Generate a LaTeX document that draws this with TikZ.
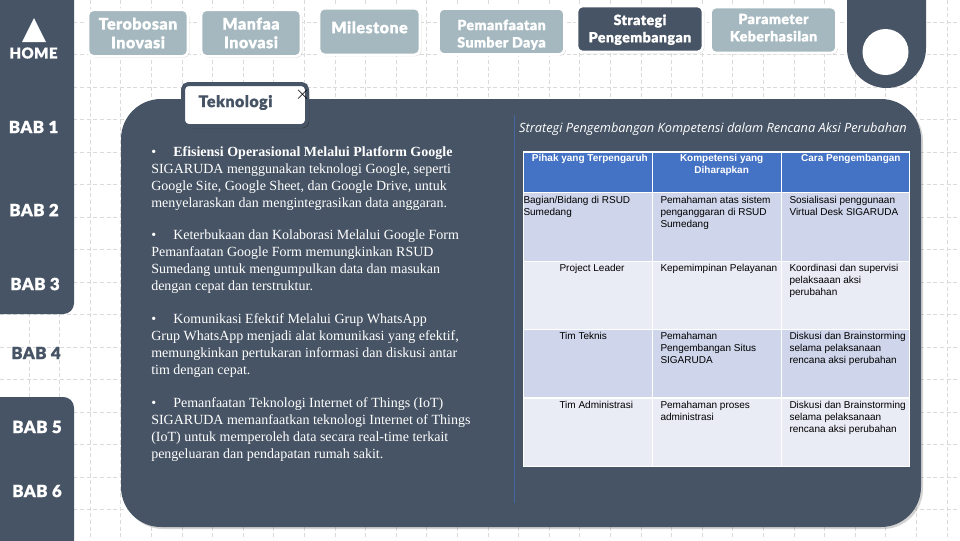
\documentclass[tikz,border=0pt]{standalone}
\usepackage{fontspec}
\setmainfont{Liberation Serif}
\newfontfamily\headfont[BoldFont={Lato Black},BoldFeatures={FakeBold=0.8,LetterSpace=3}]{Lato}
\newfontfamily\tablefont{Liberation Sans}
\newfontfamily\titlefont{Open Sans}
\usetikzlibrary{positioning,shadows}
\definecolor{slate}{HTML}{475465}
\definecolor{teal}{HTML}{A5B8BF}
\definecolor{headblue}{HTML}{4472C4}
\definecolor{rowdark}{HTML}{CFD5EA}
\definecolor{rowlight}{HTML}{E9EBF5}
\definecolor{gridline}{HTML}{DADADA}
\tikzset{
    tabbox/.style={
           rectangle,
           rounded corners=4pt,
           draw=white, line width=2pt,
           fill=teal,
           text=white,
           align=center,
           inner sep=0pt,
           minimum width=94.5pt,
           minimum height=34.5pt,
           font=\headfont\bfseries\fontsize{10.6}{13}\selectfont,
           drop shadow={shadow xshift=1pt,shadow yshift=-1pt,opacity=0.4},
           },
    shortbox/.style={tabbox,minimum width=75pt,minimum height=35pt,
           font=\headfont\bfseries\fontsize{12}{14}\selectfont},
    activebox/.style={tabbox,fill=slate},
    babtext/.style={
           text=white,
           inner sep=0pt,
           font=\headfont\bfseries\fontsize{12.6}{15}\selectfont,
           },
    cell/.style={
           rectangle,
           draw=white, line width=0.9pt,
           anchor=north west,
           inner sep=0pt,
           outer sep=0pt,
           text=black,
           font=\tablefont\fontsize{7.5}{9}\selectfont,
           },
    headcell/.style={cell,fill=headblue,text=white,
           font=\tablefont\bfseries\fontsize{7.5}{9}\selectfont},
    darkcell/.style={cell,fill=rowdark},
    lightcell/.style={cell,fill=rowlight},
    para/.style={
           anchor=north west,
           inner sep=0pt,
           text=white,
           text width=280pt,
           align=flush left,
           font=\fontsize{10.5}{12.75}\selectfont,
           },
}
% cell content: width, height, text
\newcommand{\cellbox}[3]{\parbox[c][#2][t]{#1}{\vspace{2.3pt}#3}}
\newcommand{\cellpad}[1]{\hspace*{6pt}\parbox[t]{90pt}{\raggedright #1}}
\newcommand{\headpad}[1]{\vspace{1.5pt}\centering #1}
% tab text moved up or down inside its box
\newcommand{\tabtext}[2]{\raisebox{#1}[0pt][0pt]{\begin{tabular}{@{}c@{}}#2\end{tabular}}}
\newcommand{\bul}{\makebox[16.5pt][l]{•}}

\begin{document}
\begin{tikzpicture}[x=0.75pt,y=-0.75pt]
 \useasboundingbox (0,0) rectangle (960,540);

 % grid behind everything
 \foreach \x in {29,59.6,...,950}
   \draw[gridline,densely dashed,line width=0.5pt] (\x,0) -- (\x,540);
 \foreach \y in {22,54.5,...,530}
   \draw[gridline,densely dashed,line width=0.5pt] (0,\y) -- (960,\y);

 % sidebar
 \fill[slate,rounded corners=8pt] (-20,-20) rectangle (74,314);
 \fill[slate,rounded corners=8pt] (-20,397) rectangle (74,560);
 \fill[white] (34,18) -- (46,42) -- (22,42) -- cycle;
 \node[babtext,font=\headfont\bfseries\fontsize{11.2}{15}\selectfont] (home) at (33.5,53) {HOME};
 \node[babtext] (bab1) at (33.5,127) {BAB 1};
 \node[babtext] (bab2) at (34,210) {BAB 2};
 \node[babtext] (bab3) at (35,284) {BAB 3};
 \node[babtext,text=slate] (bab4) at (36,353) {BAB 4};
 \node[babtext] (bab5) at (37,427) {BAB 5};
 \node[babtext] (bab6) at (37,491) {BAB 6};

 % top tabs
 \node[shortbox] (terobosan) at (138,33) {Terobosan\\Inovasi};
 \node[shortbox] (manfaa) at (251,33) {Manfaa\\Inovasi};
 \node[shortbox,minimum width=75.75pt] (milestone) at (369.5,31.5) {\tabtext{-1.5pt}{Milestone}};
 \node[tabbox] (sumber) at (501.5,31.5) {\tabtext{-5.6pt}{Pemanfaatan\\Sumber Daya}};
 \node[activebox] (strategi) at (640,29) {\tabtext{-3.7pt}{Strategi\\Pengembangan}};
 \node[tabbox] (parameter) at (773.5,30) {\tabtext{-2.2pt}{Parameter\\Keberhasilan}};

 % round badge top right
 \fill[slate] (847,-20) -- (847,48) arc[start angle=180,end angle=0,x radius=39.5,y radius=40] -- (926,-20) -- cycle;
 \node[circle,fill=white,minimum size=34.5pt,inner sep=0pt] (badge) at (885.5,52) {};

 % main panel
 \node[rectangle,rounded corners=30pt,fill=slate,minimum width=600pt,minimum height=321pt,
   drop shadow={shadow xshift=1.5pt,shadow yshift=-1.5pt,opacity=0.35},inner sep=0pt] (panel) at (521,313) {};

 % Teknologi tab
 \node[rectangle,rounded corners=4pt,fill=white,draw=slate,line width=3pt,
   minimum width=93pt,minimum height=31.5pt,inner sep=0pt,
   drop shadow={shadow xshift=1.5pt,shadow yshift=-1.5pt,opacity=1,fill=black!80}] (teknologi) at (245,105) {};
 \node[text=slate,inner sep=0pt,font=\headfont\bfseries\fontsize{12}{14}\selectfont] (tekno label) at (235.5,102.5) {Teknologi};
 \node[inner sep=0pt,font=\fontsize{15}{15}\selectfont] (close) at (302.5,95) {$\times$};

 % left text
 \node[para] (p1) at (151,146) {\bul\textbf{Efisiensi Operasional Melalui Platform Google}\\
  SIGARUDA menggunakan teknologi Google, seperti\\
  Google Site, Google Sheet, dan Google Drive, untuk\\
  menyelaraskan dan mengintegrasikan data anggaran.};
 \node[para] (p2) at (151,229.5) {\bul Keterbukaan dan Kolaborasi Melalui Google Form\\
  Pemanfaatan Google Form memungkinkan RSUD\\
  Sumedang untuk mengumpulkan data dan masukan\\
  dengan cepat dan terstruktur.};
 \node[para] (p3) at (151,313) {\bul Komunikasi Efektif Melalui Grup WhatsApp\\
  Grup WhatsApp menjadi alat komunikasi yang efektif,\\
  memungkinkan pertukaran informasi dan diskusi antar\\
  tim dengan cepat.};
 \node[para] (p4) at (151,397) {\bul Pemanfaatan Teknologi Internet of Things (IoT)\\
  SIGARUDA memanfaatkan teknologi Internet of Things\\
  (IoT) untuk memperoleh data secara real-time terkait\\
  pengeluaran dan pendapatan rumah sakit.};

 % divider
 \coordinate (div top) at (514,115);
 \coordinate (div bot) at (514,503);
 \draw[headblue!60!slate,line width=0.5pt] (div top) -- (div bot);

 % table title
 \node[text=white,inner sep=0pt,font=\titlefont\itshape\fontsize{9.6}{12}\selectfont] (tabletitle) at (713,129)
  {Strategi Pengembangan Kompetensi dalam Rencana Aksi Perubahan};

 % table, one node per cell
 \node[headcell] (h1) at (523.5,152) {\parbox[c][30.6pt][t]{96.75pt}{\vspace{1.5pt}\hfill Pihak yang Terpengaruh\hspace{2pt}\hspace*{1.5pt}}};
 \node[headcell,right=0pt of h1] (h2) {\parbox[c][30.6pt][t]{96.75pt}{\headpad{\hspace*{7pt}Kompetensi yang\\\hspace*{7pt}Diharapkan}}};
 \node[headcell,right=0pt of h2] (h3) {\parbox[c][30.6pt][t]{96pt}{\headpad{\hspace*{8pt}Cara Pengembangan}}};

 \node[darkcell,below=0pt of h1.south west,anchor=north west] (a1) {\cellbox{96.75pt}{51.3pt}{Bagian/Bidang di RSUD\\Sumedang}};
 \node[darkcell,right=0pt of a1] (a2) {\cellbox{96.75pt}{51.3pt}{\cellpad{Pemahaman atas sistem\\penganggaran di RSUD\\Sumedang}}};
 \node[darkcell,right=0pt of a2] (a3) {\cellbox{96pt}{51.3pt}{\cellpad{Sosialisasi penggunaan\\Virtual Desk SIGARUDA}}};

 \node[lightcell,below=0pt of a1.south west,anchor=north west] (b1) {\cellbox{96.75pt}{51.3pt}{\hspace*{27pt}Project Leader}};
 \node[lightcell,right=0pt of b1] (b2) {\cellbox{96.75pt}{51.3pt}{\cellpad{Kepemimpinan Pelayanan}}};
 \node[lightcell,right=0pt of b2] (b3) {\cellbox{96pt}{51.3pt}{\cellpad{Koordinasi dan supervisi\\pelaksaaan aksi\\perubahan}}};

 \node[darkcell,below=0pt of b1.south west,anchor=north west] (c1) {\cellbox{96.75pt}{51.3pt}{\hspace*{27pt}Tim Teknis}};
 \node[darkcell,right=0pt of c1] (c2) {\cellbox{96.75pt}{51.3pt}{\cellpad{Pemahaman\\Pengembangan Situs\\SIGARUDA}}};
 \node[darkcell,right=0pt of c2] (c3) {\cellbox{96pt}{51.3pt}{\cellpad{Diskusi dan Brainstorming\\selama pelaksanaan\\rencana aksi perubahan}}};

 \node[lightcell,below=0pt of c1.south west,anchor=north west] (d1) {\cellbox{96.75pt}{51.3pt}{\hspace*{27pt}Tim Administrasi}};
 \node[lightcell,right=0pt of d1] (d2) {\cellbox{96.75pt}{51.3pt}{\cellpad{Pemahaman proses\\administrasi}}};
 \node[lightcell,right=0pt of d2] (d3) {\cellbox{96pt}{51.3pt}{\cellpad{Diskusi dan Brainstorming\\selama pelaksanaan\\rencana aksi perubahan}}};

\end{tikzpicture}
\end{document}
